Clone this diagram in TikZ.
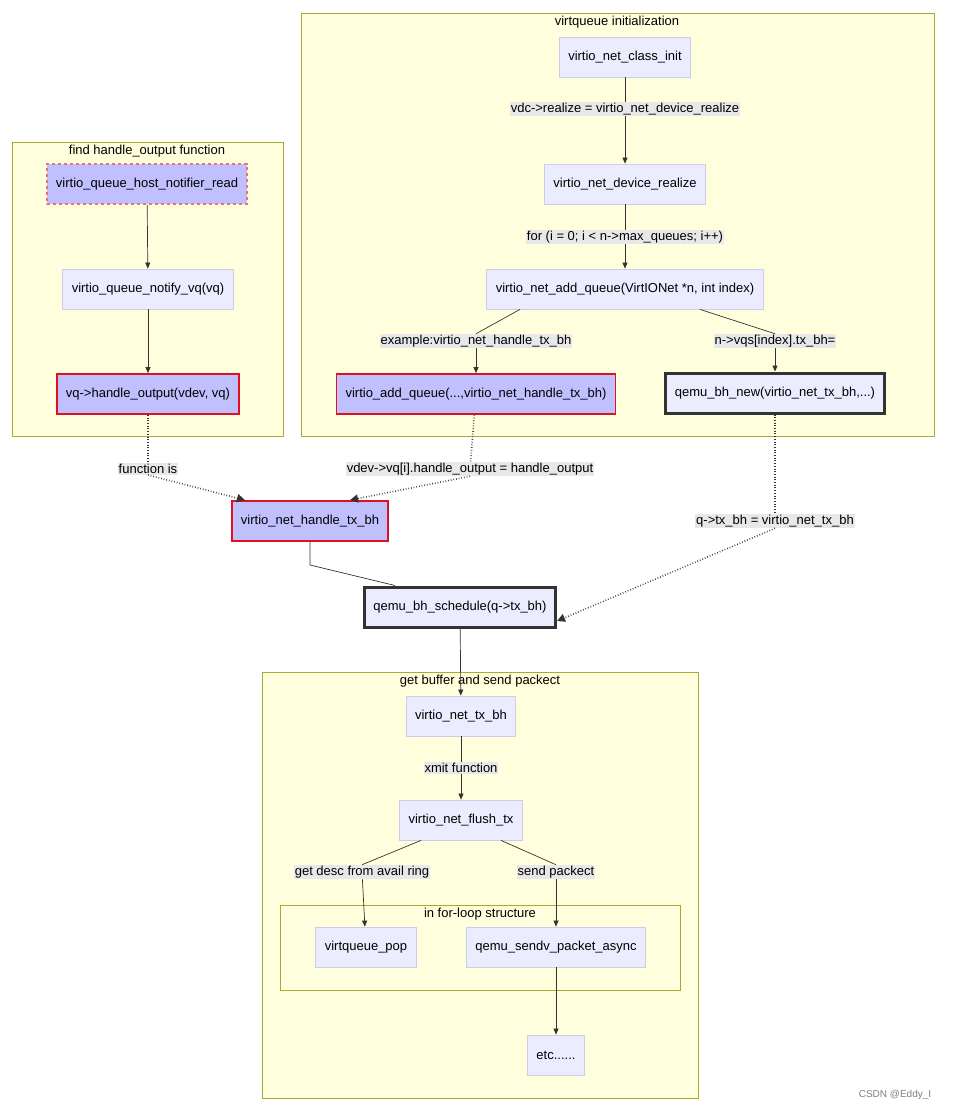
\documentclass[tikz,border=0pt]{standalone}
\usepackage{fontspec}
\setmainfont{Liberation Sans}
\usetikzlibrary{arrows.meta}
\definecolor{nfill}{HTML}{ECECFF}
\definecolor{nbord}{HTML}{CCCCEE}
\definecolor{hfill}{HTML}{C0C0FF}
\definecolor{hred}{HTML}{DD1122}
\definecolor{cfill}{HTML}{FFFFDE}
\definecolor{cbord}{HTML}{AAAA33}
\definecolor{lbg}{HTML}{E8E8E8}
\begin{document}
\begin{tikzpicture}[x=1pt,y=-1pt,
  every node/.style={font=\fontsize{13}{15}\selectfont},
  box/.style={draw=nbord,fill=nfill,line width=0.8pt,minimum height=40,inner xsep=9},
  hot/.style={box,draw=hred,fill=hfill,line width=1.8pt},
  thick box/.style={box,draw=black!80,line width=3pt},
  dbox/.style={box,draw=hred!60,fill=hfill,dashed,line width=1.5pt},
  clus/.style={draw=cbord,fill=cfill,line width=0.8pt},
  ctitle/.style={inner sep=1pt},
  lab/.style={fill=lbg,inner sep=1pt},
  conn/.style={draw=black!80,line width=0.7pt},
  arr/.style={conn,-{Triangle[length=6pt,width=5pt]}},
  dot/.style={conn,dotted,line width=1.6pt,-{Triangle[length=8pt,width=8pt]}}]
\useasboundingbox (0,0) rectangle (953,1112);
\fill[white] (0,0) rectangle (953,1112);
% clusters
\draw[clus] (301,13) rectangle (934,436);
\node[ctitle] (t1) at (617,22) {virtqueue initialization};
\draw[clus] (12,142) rectangle (283,436);
\node[ctitle] (t2) at (147,151) {find handle\_output function};
\draw[clus] (262,672) rectangle (698,1098);
\node[ctitle] (t3) at (480,681) {get buffer and send packect};
\draw[clus] (280,905) rectangle (680,990);
\node[ctitle] (t4) at (480,914) {in for-loop structure};
% nodes
\node[box] (ci) at (625,57) {virtio\_net\_class\_init};
\node[box] (dr) at (625,184) {virtio\_net\_device\_realize};
\node[box] (aq) at (625,289) {virtio\_net\_add\_queue(VirtIONet *n, int index)};
\node[hot] (avq) at (476,394) {virtio\_add\_queue(...,virtio\_net\_handle\_tx\_bh)};
\node[thick box] (bhn) at (775,393) {qemu\_bh\_new(virtio\_net\_tx\_bh,...)};
\node[dbox] (hnr) at (147,184) {virtio\_queue\_host\_notifier\_read};
\node[box] (nvq) at (148,289) {virtio\_queue\_notify\_vq(vq)};
\node[hot] (ho) at (148,394) {vq->handle\_output(vdev, vq)};
\node[hot] (htb) at (310,521) {virtio\_net\_handle\_tx\_bh};
\node[thick box] (sch) at (460,607) {qemu\_bh\_schedule(q->tx\_bh)};
\node[box] (txb) at (461,716) {virtio\_net\_tx\_bh};
\node[box] (fl) at (461,820) {virtio\_net\_flush\_tx};
\node[box] (pop) at (366,947) {virtqueue\_pop};
\node[box] (snd) at (556,947) {qemu\_sendv\_packet\_async};
\node[box] (etc) at (556,1055) {etc......};
% labels
\node[lab] (l1) at (625,109) {vdc->realize = virtio\_net\_device\_realize};
\node[lab] (l2) at (625,237) {for (i = 0; i < n->max\_queues; i++)};
\node[lab] (l3) at (476,341) {example:virtio\_net\_handle\_tx\_bh};
\node[lab] (l4) at (775,341) {n->vqs[index].tx\_bh=};
\node[lab] (l5) at (148,469) {function is};
\node[lab] (l6) at (470,469) {vdev->vq[i].handle\_output = handle\_output};
\node[lab] (l7) at (775,521) {q->tx\_bh = virtio\_net\_tx\_bh};
\node[lab] (l8) at (461,768) {xmit function};
\node[lab] (l9) at (362,872) {get desc from avail ring};
\node[lab] (l10) at (556,872) {send packect};
\node[text=gray,font=\fontsize{10}{12}\selectfont] (wm) at (895,1095) {CSDN @Eddy\_I};
% edges
\draw[conn] (ci) -- (l1); \draw[arr] (l1) -- (dr);
\draw[conn] (dr) -- (l2); \draw[arr] (l2) -- (aq);
\draw[conn] ([xshift=-105]aq.south) -- (l3.north); \draw[arr] (l3) -- (avq);
\draw[conn] ([xshift=75]aq.south) -- (l4.north); \draw[arr] (l4) -- (bhn);
\draw[arr] (hnr) -- (nvq);
\draw[arr] (nvq) -- (ho);
\draw[dot,-] (ho) -- (l5); \draw[dot] (l5.south) -- ([xshift=-65]htb.north);
\draw[dot,-] (avq) -- (l6); \draw[dot] (l6.south) -- ([xshift=40]htb.north);
\draw[dot,-] (bhn) -- (l7); \draw[dot] (l7.south) -- ([yshift=-14]sch.east);
\draw[conn] (htb.south) -- (310,565) -- ([xshift=-65]sch.north);
\draw[arr] (sch) -- (txb);
\draw[conn] (txb) -- (l8); \draw[arr] (l8) -- (fl);
\draw[conn] ([xshift=-40]fl.south) -- (l9.north); \draw[arr] (l9) -- (pop);
\draw[conn] ([xshift=40]fl.south) -- (l10.north); \draw[arr] (l10) -- (snd);
\draw[arr] (snd) -- (etc);
\end{tikzpicture}
\end{document}
